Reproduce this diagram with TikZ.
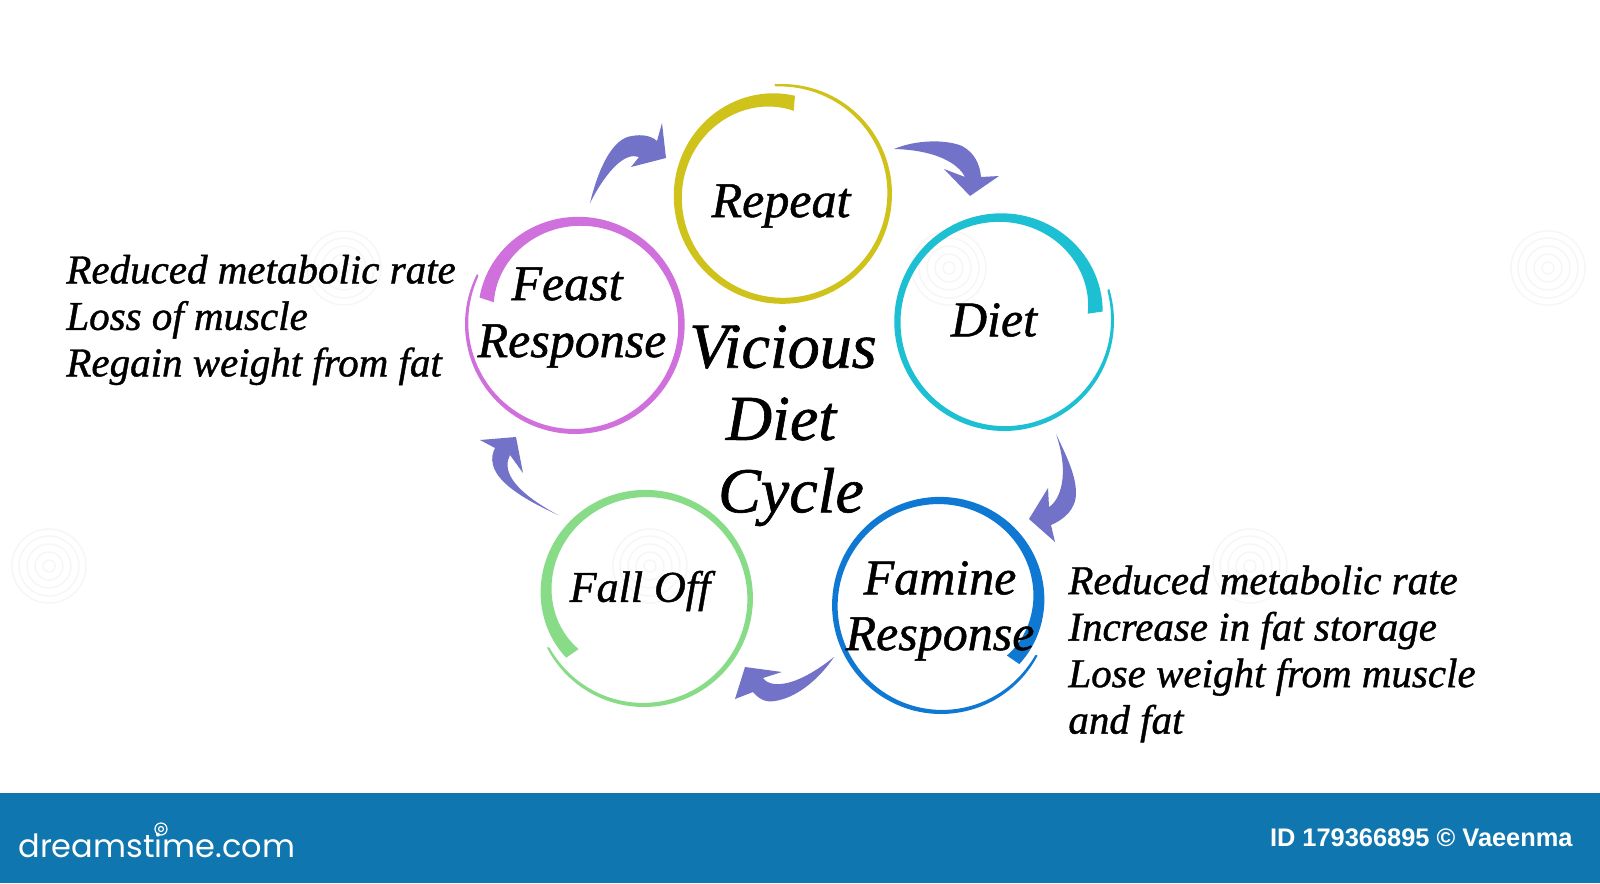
\documentclass[tikz,border=0pt]{standalone}
\usepackage{fontspec}
\setmainfont[ItalicFeatures={FakeBold=1.0}]{Liberation Serif}
\newfontfamily\bandfont{Liberation Sans}
\newfontfamily\logofont{Poppins}
\definecolor{arrowc}{HTML}{7272C8}
\definecolor{repeatc}{HTML}{CFC21A}
\definecolor{dietc}{HTML}{1DBFD2}
\definecolor{faminec}{HTML}{0F78D2}
\definecolor{fallc}{HTML}{88DC88}
\definecolor{feastc}{HTML}{D070DC}
\definecolor{bandc}{HTML}{0F76AF}
\definecolor{markc}{HTML}{F6F6F6}
% centre x, centre y, radius, start angle, sweep, colour
\newcommand{\brushring}[6]{%
  \fill[#6] plot[domain=0:1,samples=120,variable=\t]
      ({#1+(#3-11*pow(\t,6))*cos(#4+#5*\t)},{#2+(#3-11*pow(\t,6))*sin(#4+#5*\t)})
    -- plot[domain=1:0,samples=120,variable=\t]
      ({#1+(#3-11*pow(\t,6)-2-6*pow(\t,0.6)-7*pow(\t,6))*cos(#4+#5*\t)},{#2+(#3-11*pow(\t,6)-2-6*pow(\t,0.6)-7*pow(\t,6))*sin(#4+#5*\t)})
    -- cycle;}
\newcommand{\markspiral}[2]{%
  \foreach \r in {6,14,22,30,37}{\draw[markc,line width=0.7pt] (#1,#2) circle[radius=\r];}}
\tikzset{
  big/.style={font=\fontsize{32}{36}\selectfont\itshape,inner sep=0pt},
  lab/.style={font=\fontsize{25}{30}\selectfont\itshape,inner sep=0pt},
  listing/.style={font=\fontsize{20.5}{23.25}\selectfont\itshape,inner sep=0pt,anchor=west,align=left},
  curved arrow/.style={fill=arrowc,draw=none}
}
\begin{document}
\begin{tikzpicture}[x=0.5pt,y=-0.5pt]
\useasboundingbox (0,0) rectangle (1600,883);
\fill[white] (0,0) rectangle (1600,883);
\markspiral{344}{268}\markspiral{949}{268}\markspiral{1548}{268}
\markspiral{49}{566}\markspiral{650}{566}\markspiral{1250}{566}
\fill[bandc] (0,793) rectangle (1600,883);

\brushring{782}{194}{110}{266}{372}{repeatc}
\brushring{1004}{321}{110}{-17}{372}{dietc}
\brushring{941}{605}{109}{27.5}{370}{faminec}
\brushring{644}{598}{109}{153}{-371}{fallc}
\brushring{575}{324}{110}{207}{-372}{feastc}

% Feast -> Repeat
\fill[curved arrow] (590,203) .. controls (598,170) and (612,138) .. (632,136)
  .. controls (642,134) and (652,136) .. (657,141) -- (662,123) -- (666,158) -- (631,167)
  -- (639,157) .. controls (626,152) and (608,168) .. (590,203) -- cycle;
% Repeat -> Diet
\fill[curved arrow] (894,149) .. controls (915,140) and (945,139) .. (962,146)
  .. controls (975,153) and (980,165) .. (981,177) -- (999,176) -- (970,196) -- (944,169)
  -- (965,177) .. controls (958,163) and (935,150) .. (894,149) -- cycle;
% Diet -> Famine
\fill[curved arrow] (1056,434) .. controls (1066,455) and (1076,475) .. (1076,493)
  .. controls (1076,510) and (1063,520) .. (1051,525) -- (1055,542) -- (1029,519) -- (1048,488)
  -- (1049,507) .. controls (1060,500) and (1070,475) .. (1056,434) -- cycle;
% Famine -> Fall Off
\fill[curved arrow] (834,657) .. controls (822,675) and (800,697) .. (775,701)
  .. controls (765,703) and (758,698) .. (753,692) -- (735,699) -- (745,667) -- (782,672)
  -- (763,678) .. controls (768,686) and (790,692) .. (834,657) -- cycle;
% Fall Off -> Feast
\fill[curved arrow] (558,515) .. controls (530,502) and (498,485) .. (493,465)
  .. controls (491,458) and (493,452) .. (495,448) -- (480,440) -- (516,437) -- (523,473)
  -- (510,455) .. controls (503,468) and (508,488) .. (558,515) -- cycle;

\node[lab] (repeat) at (781,206) {Repeat};
\node[lab] (diet) at (994,320) {Diet};
\node[lab] (feast) at (567,284) {Feast};
\node[lab] (feastr) at (572,346) {Response};
\node[lab] (famine) at (940,578) {Famine};
\node[lab] (faminer) at (940,639) {Response};
\node[lab,font=\fontsize{22}{26}\selectfont\itshape] (falloff) at (640,591) {Fall Off};
\node[big] (t1) at (783,347) {Vicious};
\node[big] (t2) at (781,419) {Diet};
\node[big] (t3) at (791,497) {Cycle};

\node[listing] (left) at (66,320) {Reduced metabolic rate\\Loss of muscle\\Regain weight from fat};
\node[listing] (right) at (1068,654) {Reduced metabolic rate\\Increase in fat storage\\Lose weight from muscle\\and fat};

\node[text=white,anchor=west,inner sep=0pt,font=\logofont\fontsize{16}{18}\selectfont] (logo) at (18,845) {dreamstime.com};
\draw[white,line width=0.6pt] (161,829) circle[radius=6] (161,829) circle[radius=2.5];
\node[text=white,anchor=east,inner sep=0pt,font=\bandfont\bfseries\fontsize{12.7}{14}\selectfont] (id) at (1573,838) {ID 179366895 © Vaeenma};
\end{tikzpicture}
\end{document}
